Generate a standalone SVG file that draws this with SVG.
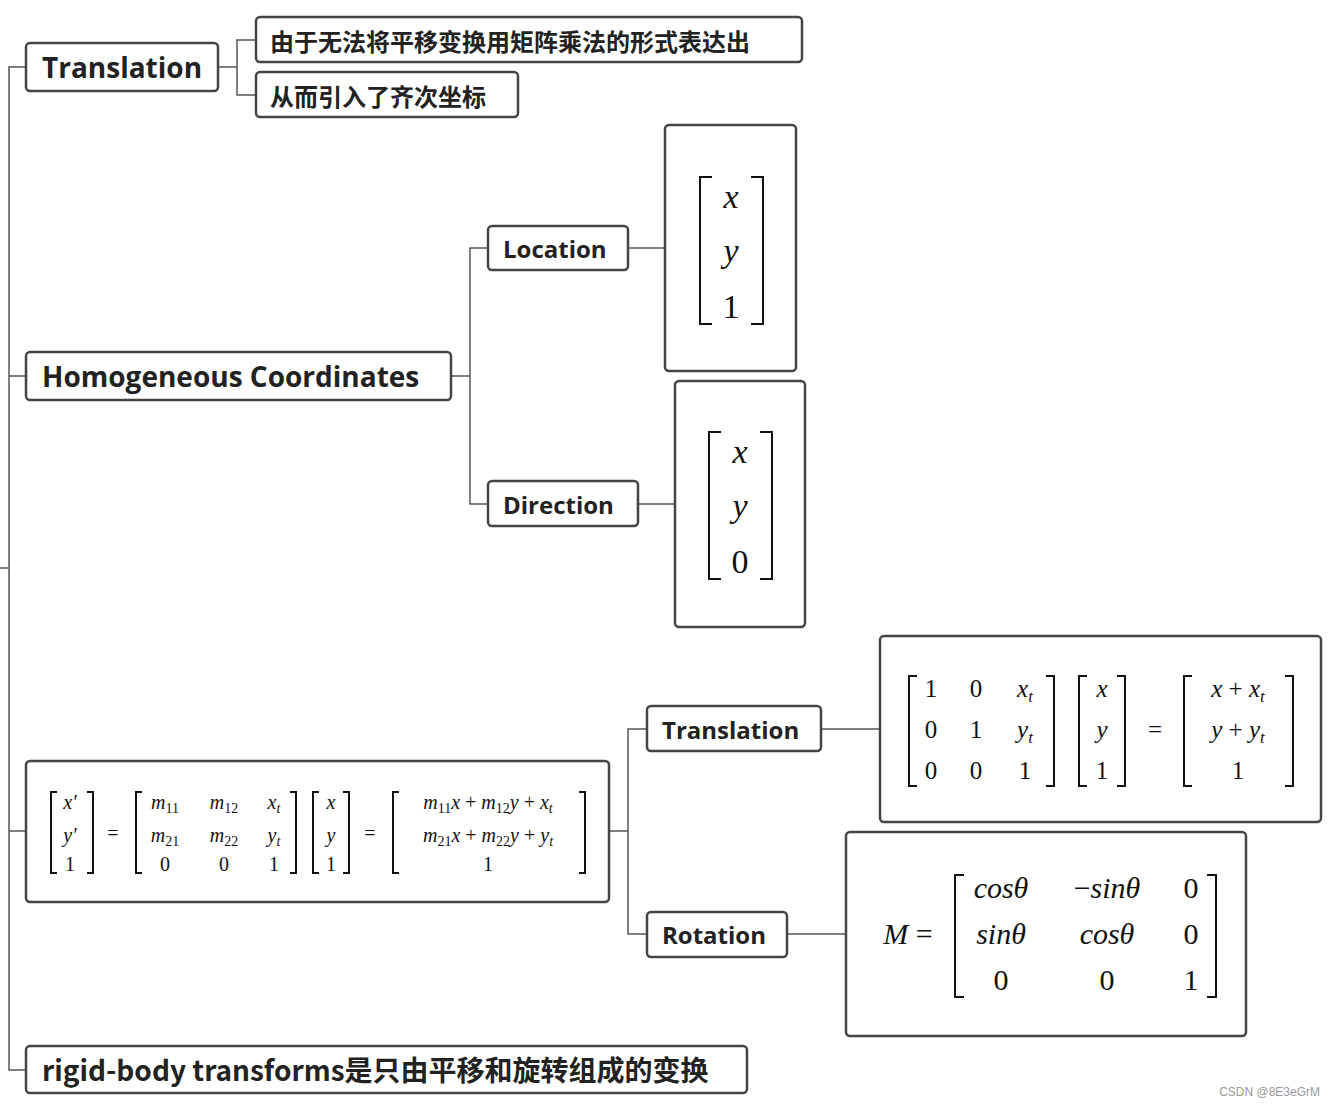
<svg xmlns="http://www.w3.org/2000/svg" width="1335" height="1106" viewBox="0 0 1335 1106">
<style>
.box{fill:#fff;stroke:#444;stroke-width:2.5}
.lbl{font-family:"Open Sans","Noto Sans CJK SC",sans-serif;font-weight:bold;fill:#222;dominant-baseline:central}
.cn{font-family:"Noto Sans CJK SC",sans-serif;font-weight:bold;fill:#222;dominant-baseline:central}
.m{font-family:"Liberation Serif","DejaVu Serif",serif;fill:#111;text-anchor:middle}
.i{font-style:italic}
.br{fill:none;stroke:#111;stroke-width:2}
#connectors path{fill:none;stroke:#555;stroke-width:1.5}
</style>
<rect width="1335" height="1106" fill="#fff"/>
<g id="connectors">
<path d="M0 568H9M26 67H9V1070H26M9 376H26M9 831H26"/>
<path d="M218 67H237M256 40H237V95H256"/>
<path d="M451 376H470M488 248H470V504H488"/>
<path d="M628 248H665M638 504H675"/>
<path d="M609 831H628M647 729H628V934H647"/>
<path d="M821 729H880M787 934H846"/>
</g>
<g id="n-translation"><rect class="box" x="26" y="43" width="192" height="48" rx="4"/><text class="lbl" x="42" y="67" font-size="28">Translation</text></g>
<g id="n-cn1"><rect class="box" x="256" y="17" width="546" height="45" rx="4"/><text class="cn" x="270" y="40" font-size="24">由于无法将平移变换用矩阵乘法的形式表达出</text></g>
<g id="n-cn2"><rect class="box" x="256" y="72" width="262" height="45" rx="4"/><text class="cn" x="270" y="95" font-size="24">从而引入了齐次坐标</text></g>
<g id="n-homog"><rect class="box" x="26" y="352" width="425" height="48" rx="4"/><text class="lbl" x="42" y="376" font-size="28">Homogeneous Coordinates</text></g>
<g id="n-location"><rect class="box" x="488" y="226" width="140" height="44" rx="4"/><text class="lbl" x="503" y="248" font-size="24">Location</text></g>
<g id="n-locmat"><rect class="box" x="665" y="125" width="131" height="246" rx="4"/>
<path class="br" d="M712 177H700V324H712M751 177H763V324H751"/>
<text class="m i" x="731" y="208" font-size="34">x</text><text class="m i" x="731" y="262" font-size="34">y</text><text class="m" x="731" y="318" font-size="34">1</text></g>
<g id="n-direction"><rect class="box" x="488" y="481" width="150" height="45" rx="4"/><text class="lbl" x="503" y="504" font-size="24">Direction</text></g>
<g id="n-dirmat"><rect class="box" x="675" y="381" width="130" height="246" rx="4"/>
<path class="br" d="M721 432H709V579H721M760 432H772V579H760"/>
<text class="m i" x="740" y="463" font-size="34">x</text><text class="m i" x="740" y="517" font-size="34">y</text><text class="m" x="740" y="573" font-size="34">0</text></g>
<g id="n-equation"><rect class="box" x="26" y="761" width="583" height="141" rx="4"/>
<path class="br" d="M57 792H51V873H57M87 792H93V873H87M142 792H136V873H142M290 792H296V873H290M319 792H313V873H319M343 792H349V873H343M399 792H393V873H399M579 792H585V873H579"/>
<g font-size="20">
<text class="m i" x="70" y="809">x′</text><text class="m i" x="70" y="842">y′</text><text class="m" x="70" y="871">1</text>
<text class="m" x="113" y="840">=</text>
<text class="m i" x="165" y="809">m<tspan font-size="14" font-style="normal" dy="4">11</tspan></text>
<text class="m i" x="224" y="809">m<tspan font-size="14" font-style="normal" dy="4">12</tspan></text>
<text class="m i" x="274" y="809">x<tspan font-size="14" dy="4">t</tspan></text>
<text class="m i" x="165" y="842">m<tspan font-size="14" font-style="normal" dy="4">21</tspan></text>
<text class="m i" x="224" y="842">m<tspan font-size="14" font-style="normal" dy="4">22</tspan></text>
<text class="m i" x="274" y="842">y<tspan font-size="14" dy="4">t</tspan></text>
<text class="m" x="165" y="871">0</text><text class="m" x="224" y="871">0</text><text class="m" x="274" y="871">1</text>
<text class="m i" x="331" y="809">x</text><text class="m i" x="331" y="842">y</text><text class="m" x="331" y="871">1</text>
<text class="m" x="370" y="840">=</text>
<text class="m i" x="488" y="809">m<tspan font-size="14" font-style="normal" dy="4">11</tspan><tspan dy="-4">x </tspan><tspan font-style="normal">+ </tspan>m<tspan font-size="14" font-style="normal" dy="4">12</tspan><tspan dy="-4">y </tspan><tspan font-style="normal">+ </tspan>x<tspan font-size="14" dy="4">t</tspan></text>
<text class="m i" x="488" y="842">m<tspan font-size="14" font-style="normal" dy="4">21</tspan><tspan dy="-4">x </tspan><tspan font-style="normal">+ </tspan>m<tspan font-size="14" font-style="normal" dy="4">22</tspan><tspan dy="-4">y </tspan><tspan font-style="normal">+ </tspan>y<tspan font-size="14" dy="4">t</tspan></text>
<text class="m" x="488" y="871">1</text>
</g></g>
<g id="n-translation2"><rect class="box" x="647" y="706" width="174" height="45" rx="4"/><text class="lbl" x="662" y="729" font-size="24">Translation</text></g>
<g id="n-tmat"><rect class="box" x="880" y="636" width="441" height="186" rx="4"/>
<path class="br" d="M917 676H909V786H917M1046 676H1054V786H1046M1087 676H1079V786H1087M1117 676H1125V786H1117M1192 676H1184V786H1192M1285 676H1293V786H1285"/>
<g font-size="25">
<text class="m" x="931" y="697">1</text><text class="m" x="976" y="697">0</text><text class="m i" x="1025" y="697">x<tspan font-size="17" dy="5">t</tspan></text>
<text class="m" x="931" y="738">0</text><text class="m" x="976" y="738">1</text><text class="m i" x="1025" y="738">y<tspan font-size="17" dy="5">t</tspan></text>
<text class="m" x="931" y="779">0</text><text class="m" x="976" y="779">0</text><text class="m" x="1025" y="779">1</text>
<text class="m i" x="1102" y="697">x</text><text class="m i" x="1102" y="738">y</text><text class="m" x="1102" y="779">1</text>
<text class="m" x="1155" y="738">=</text>
<text class="m i" x="1238" y="697">x <tspan font-style="normal">+</tspan> x<tspan font-size="17" dy="5">t</tspan></text>
<text class="m i" x="1238" y="738">y <tspan font-style="normal">+</tspan> y<tspan font-size="17" dy="5">t</tspan></text>
<text class="m" x="1238" y="779">1</text>
</g></g>
<g id="n-rotation"><rect class="box" x="647" y="912" width="140" height="45" rx="4"/><text class="lbl" x="662" y="934" font-size="24">Rotation</text></g>
<g id="n-rotmat"><rect class="box" x="846" y="832" width="400" height="204" rx="4"/>
<path class="br" d="M964 875H955V997H964M1207 875H1216V997H1207"/>
<g font-size="30">
<text class="m i" x="908" y="944">M <tspan font-style="normal">=</tspan></text>
<text class="m i" x="1001" y="898">cosθ</text><text class="m i" x="1107" y="898"><tspan font-style="normal">−</tspan>sinθ</text><text class="m" x="1191" y="898">0</text>
<text class="m i" x="1001" y="944">sinθ</text><text class="m i" x="1107" y="944">cosθ</text><text class="m" x="1191" y="944">0</text>
<text class="m" x="1001" y="990">0</text><text class="m" x="1107" y="990">0</text><text class="m" x="1191" y="990">1</text>
</g></g>
<g id="n-rigid"><rect class="box" x="26" y="1046" width="721" height="47" rx="4"/><text class="cn" x="42" y="1069" font-size="28">rigid-body transforms是只由平移和旋转组成的变换</text></g>
<text x="1320" y="1096" font-family="Liberation Sans,sans-serif" font-size="12" fill="#999" text-anchor="end">CSDN @8E3eGrM</text>
</svg>
